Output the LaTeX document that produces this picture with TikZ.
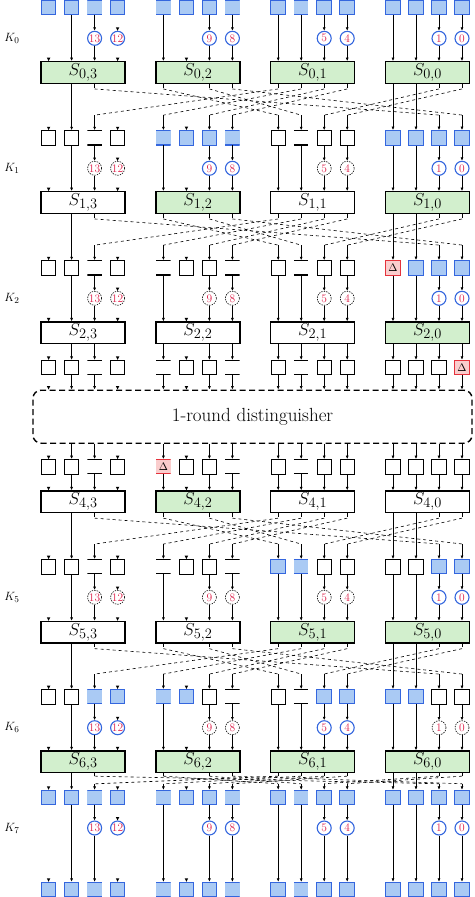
\documentclass[tikz,border=0pt]{standalone}
\usetikzlibrary{arrows.meta,calc}
\definecolor{cblue}{RGB}{170,202,244}
\definecolor{bblue}{RGB}{52,102,222}
\definecolor{sgreen}{RGB}{210,239,205}
\definecolor{kred}{RGB}{222,30,72}
\definecolor{dpink}{RGB}{250,205,205}
\definecolor{dred}{RGB}{228,50,60}
\def\permlist{2/14,4/8,6/9,7/15,8/2,9/4,10/6,11/7,14/10,15/11}
\def\drawnlist{1,2,4,6,7,8,9,10,11,12,13,14,15}
\newcommand\mk[1]{\fill #1 -- ++(-1.7,-3.4) -- ++(3.4,0) -- cycle;}
\newcommand\cellrow[3]{%
  \foreach \t [count=\i from 0] in {#3}{%
    \pgfmathsetmacro\xx{48.6+114.8*floor(\i/4)+23*mod(\i,4)}
    \node[ty\t] (c-#1-\i) at (\xx,#2) {};
  }}
\newcommand\keyrow[3]{%
  \foreach \kt [count=\G from 0] in {#3}{%
    \foreach \q in {2,3}{%
      \pgfmathtruncatemacro\pp{4*\G+\q}
      \pgfmathtruncatemacro\lab{15-\pp}
      \pgfmathsetmacro\xx{48.6+114.8*\G+23*\q}
      \node[key\kt] (k-#1-\pp) at (\xx,#2) {\lab};
    }}
  \node[klab] (K-#1) at (12,#2) {$K_{#1}$};}
\newcommand\sboxrow[3]{%
  \foreach \f [count=\G from 0] in {#3}{%
    \pgfmathsetmacro\xx{48.6+114.8*\G+34.5}
    \pgfmathtruncatemacro\jj{3-\G}
    \node[sbox,fill=\f] (S-#1-\G) at (\xx,#2) {$S_{#1,\jj}$};
  }}
\newcommand\keywires[1]{%
  \foreach \p in {1,4,8,9,12,13}{%
    \pgfmathtruncatemacro\G{floor(\p/4)}
    \draw[wire] (c-#1-\p.south) -- (c-#1-\p.south |- S-#1-\G.north);}
  \foreach \p in {2,6,7,10,11,14,15}{%
    \pgfmathtruncatemacro\G{floor(\p/4)}
    \draw[wire] (c-#1-\p.south) -- (k-#1-\p.north);
    \draw[wire] (k-#1-\p.south) -- (k-#1-\p.south |- S-#1-\G.north);}
  \mk{(c-#1-0.south |- S-#1-0.north)}
  \mk{(c-#1-5.south |- S-#1-1.north)}
  \mk{(k-#1-3.north)}
  \mk{(k-#1-3.south |- S-#1-0.north)}}
\newcommand\permwires[4]{%
  \foreach \s/\d in \permlist{%
    \pgfmathtruncatemacro\G{floor(\s/4)}
    \path (c-#2-\s.north |- S-#1-\G.south) coordinate (pa0) ++(0,#3) coordinate (pa);
    \path (c-#2-\d.north) coordinate (pb0) ++(0,-#4) coordinate (pb);
    \draw[thinl] (pa0) -- (pa);
    \draw[thinl,dashed] (pa) -- (pb);
    \draw[wire] (pb) -- (pb0);}
  \foreach \s in {1,12,13}{%
    \pgfmathtruncatemacro\G{floor(\s/4)}
    \draw[wire] (c-#2-\s.north |- S-#1-\G.south) -- (c-#2-\s.north);}
  \foreach \s in {0,3,5}{\mk{(c-#2-\s.north)}}}
\begin{document}
\begin{tikzpicture}[x=1pt,y=-1pt,
  thinl/.style={line width=0.6pt,dash pattern=on 3.6pt off 2pt},
  wire/.style={line width=0.6pt,-{Latex[length=3.4pt,width=3pt]}},
  cellbase/.style={rectangle,minimum width=14.5pt,minimum height=14.5pt,inner sep=0pt,line width=0.8pt},
  gapbar/.style={path picture={\draw[#1,line width=1.3pt] (path picture bounding box.north west) -- (path picture bounding box.north east) (path picture bounding box.south west) -- (path picture bounding box.south east);}},
  dlab/.style={font=\fontsize{11}{11}\selectfont,inner sep=0pt},
  tyW/.style={cellbase,draw=black,fill=white},
  tyB/.style={cellbase,draw=bblue,fill=cblue,line width=1pt},
  tyWg/.style={cellbase,fill=white,gapbar=black},
  tyBg/.style={cellbase,fill=cblue,gapbar=bblue},
  tyD/.style={cellbase,draw=dred,fill=dpink,line width=1pt,label={[dlab]center:$\Delta$}},
  tyEg/.style={cellbase,fill=dpink,gapbar=dred,label={[dlab]center:$\Delta$}},
  keyb/.style={circle,draw=bblue,line width=1.1pt,fill=white,minimum size=14pt,inner sep=0pt,text=kred,font=\fontsize{11.5}{11.5}\selectfont},
  keyd/.style={circle,draw=black,line width=0.6pt,dash pattern=on 1.4pt off 1.1pt,fill=white,minimum size=14pt,inner sep=0pt,text=kred,font=\fontsize{11.5}{11.5}\selectfont},
  klab/.style={font=\fontsize{13}{13}\selectfont,inner sep=0pt},
  sbox/.style={draw=black,line width=1.4pt,minimum width=84pt,minimum height=21.5pt,inner sep=0pt,font=\fontsize{19}{19}\selectfont},
  distbox/.style={draw=black,line width=1.4pt,dash pattern=on 6pt off 3.5pt,rounded corners=8pt,minimum width=439pt,minimum height=53pt,inner sep=0pt,font=\fontsize{19}{19}\selectfont}
]
\useasboundingbox (0,0) rectangle (474,897);
% rows
\cellrow{0}{7.5}{B,B,Bg,B,Bg,B,B,Bg,B,Bg,B,B,B,B,B,B}
\keyrow{0}{38.3}{b,b,b,b}
\sboxrow{0}{72.5}{sgreen,sgreen,sgreen,sgreen}
\cellrow{1}{137.8}{W,W,Wg,W,Bg,B,B,Bg,W,Wg,W,W,B,B,B,B}
\keyrow{1}{168.3}{d,b,d,b}
\sboxrow{1}{202.5}{white,sgreen,white,sgreen}
\cellrow{2}{267.8}{W,W,Wg,W,Wg,W,W,Wg,W,Wg,W,W,D,B,B,B}
\keyrow{2}{298.3}{d,d,d,b}
\sboxrow{2}{332.8}{white,white,white,sgreen}
\cellrow{3}{367.5}{W,W,Wg,W,Wg,W,W,Wg,W,Wg,W,W,W,W,W,D}
\node[distbox] (dist) at (252.5,416.7) {1-round distinguisher};
\cellrow{4}{466.7}{W,W,Wg,W,Eg,W,W,Wg,W,Wg,W,W,W,W,W,W}
\sboxrow{4}{501.7}{white,sgreen,white,white}
\cellrow{5}{566.7}{W,W,Wg,W,Wg,W,W,Wg,B,Bg,W,W,W,W,B,B}
\keyrow{5}{597.3}{d,d,d,b}
\sboxrow{5}{632.2}{white,white,sgreen,sgreen}
\cellrow{6}{696.7}{W,W,Bg,B,Bg,B,W,Wg,W,Wg,B,B,B,B,W,W}
\keyrow{6}{727.7}{b,d,b,d}
\sboxrow{6}{761.7}{sgreen,sgreen,sgreen,sgreen}
\cellrow{7}{797.5}{B,B,Bg,B,Bg,B,B,Bg,B,Bg,B,B,B,B,B,B}
\keyrow{7}{828}{b,b,b,b}
\cellrow{8}{889.5}{B,B,Bg,B,Bg,B,B,Bg,B,Bg,B,B,B,B,B,B}
% key rounds
\keywires{0}
\keywires{1}
\keywires{2}
\keywires{5}
\keywires{6}
% permutations
\permwires{0}{1}{5}{15}
\permwires{1}{2}{5}{15}
\permwires{4}{5}{5}{15}
\permwires{5}{6}{5}{15}
\permwires{6}{7}{3}{6}
% straight S2 -> R3 -> dist -> R4 -> S4
\foreach \p in \drawnlist{%
  \pgfmathtruncatemacro\G{floor(\p/4)}
  \draw[wire] (c-3-\p.north |- S-2-\G.south) -- (c-3-\p.north);
  \draw[wire] (c-3-\p.south) -- (c-3-\p.south |- dist.north);
  \draw[wire] (c-4-\p.north |- dist.south) -- (c-4-\p.north);
  \draw[wire] (c-4-\p.south) -- (c-4-\p.south |- S-4-\G.north);}
\foreach \p/\G in {0/0,3/0,5/1}{%
  \mk{(c-3-\p.north)}
  \mk{(c-3-\p.south |- dist.north)}
  \mk{(c-4-\p.north)}
  \mk{(c-4-\p.south |- S-4-\G.north)}}
% last key
\foreach \p in {1,4,8,9,12,13}{\draw[wire] (c-7-\p.south) -- (c-8-\p.north);}
\foreach \p in {2,6,7,10,11,14,15}{%
  \draw[wire] (c-7-\p.south) -- (k-7-\p.north);
  \draw[wire] (k-7-\p.south) -- (c-8-\p.north);}
\mk{(c-8-0.north)} \mk{(c-8-5.north)} \mk{(k-7-3.north)} \mk{(c-8-3.north)}
\end{tikzpicture}
\end{document}
